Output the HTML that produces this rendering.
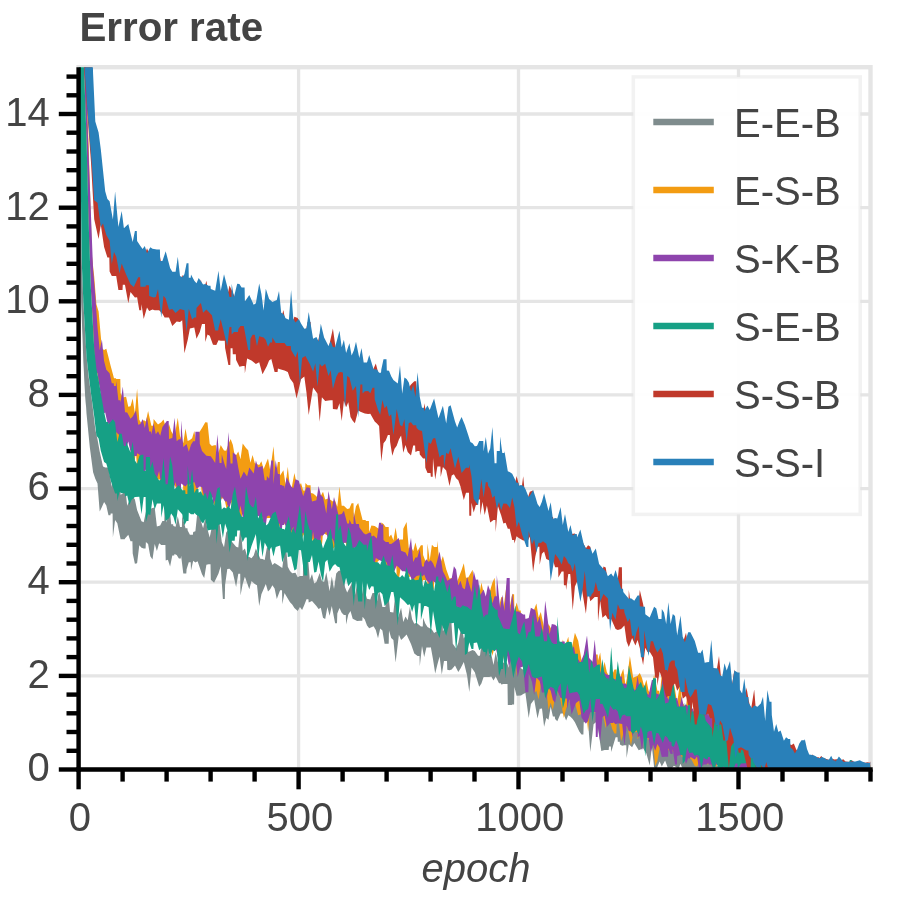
<!DOCTYPE html>
<html><head><meta charset="utf-8"><title>Error rate</title>
<style>
html,body{margin:0;padding:0;background:#fff;}
svg{display:block;}
text{font-family:"Liberation Sans",Arial,Helvetica,sans-serif;fill:#444444;}
</style></head><body>
<svg width="900" height="900" viewBox="0 0 900 900">
<rect x="0" y="0" width="900" height="900" fill="#ffffff"/>
<defs><clipPath id="plot"><rect x="78.6" y="67.2" width="791.9" height="702.3"/></clipPath></defs>
<g stroke="#e5e5e5" stroke-width="3.3" fill="none">
<line x1="298.6" y1="67.2" x2="298.6" y2="769.5"/>
<line x1="518.5" y1="67.2" x2="518.5" y2="769.5"/>
<line x1="738.5" y1="67.2" x2="738.5" y2="769.5"/>
<line x1="78.6" y1="675.9" x2="870.5" y2="675.9"/>
<line x1="78.6" y1="582.2" x2="870.5" y2="582.2"/>
<line x1="78.6" y1="488.6" x2="870.5" y2="488.6"/>
<line x1="78.6" y1="394.9" x2="870.5" y2="394.9"/>
<line x1="78.6" y1="301.3" x2="870.5" y2="301.3"/>
<line x1="78.6" y1="207.7" x2="870.5" y2="207.7"/>
<line x1="78.6" y1="114.0" x2="870.5" y2="114.0"/>
</g>
<rect x="78.6" y="67.2" width="791.9" height="702.3" fill="none" stroke="#e5e5e5" stroke-width="4.4"/>
<g clip-path="url(#plot)">
<path fill="#7f8c8d" d="M78.6,88.5L79.0,104.2L79.5,119.9L79.9,135.7L80.4,151.4L80.8,178.2L81.2,218.1L81.7,258.1L82.1,270.8L82.6,282.0L83.0,293.3L83.4,303.4L83.9,311.1L84.3,318.7L84.8,326.3L85.2,333.4L85.6,340.8L86.1,348.1L86.5,355.2L88.7,377.2L92.0,401.0L95.3,429.6L97.5,439.3L99.7,451.6L103.0,466.4L105.2,467.6L108.2,467.6L108.5,467.2L111.8,487.0L114.0,457.5L116.2,487.7L118.4,488.3L120.3,488.3L120.6,494.8L122.8,493.5L125.0,486.5L127.2,505.8L131.6,494.7L134.9,499.6L137.1,509.9L141.5,521.3L143.7,522.3L145.9,511.7L148.1,513.3L150.3,508.9L152.5,508.1L154.7,507.4L156.9,526.6L160.2,525.6L162.4,520.9L164.3,520.9L164.6,509.5L166.8,522.6L169.0,501.4L171.2,524.2L173.1,524.2L173.4,525.9L175.6,526.7L177.8,516.3L180.0,526.9L181.9,526.9L182.2,515.6L185.5,528.3L187.4,528.3L187.7,530.4L189.9,534.7L192.9,534.7L193.2,532.1L195.4,531.3L198.7,499.0L200.6,499.0L200.9,520.7L203.1,528.2L205.3,518.0L207.5,529.2L209.7,537.5L213.0,521.4L215.2,520.9L217.4,521.3L219.6,523.6L221.8,542.0L224.0,547.2L226.2,532.6L229.5,528.0L231.4,528.0L231.7,541.6L236.1,546.8L238.3,547.6L240.5,524.9L242.7,550.7L244.9,548.6L247.1,555.9L249.3,557.0L251.5,558.3L253.7,555.5L255.9,548.5L260.3,558.8L262.5,558.9L264.7,559.9L266.9,547.6L269.9,547.6L270.2,558.4L272.4,564.9L274.6,562.9L277.9,564.9L282.3,568.1L285.6,542.0L287.8,566.8L290.0,571.0L292.2,573.3L295.5,572.8L297.7,577.3L299.9,576.0L302.9,576.0L303.2,557.4L305.4,574.8L307.6,551.6L309.8,579.8L312.0,574.1L314.2,583.4L316.4,582.0L319.7,572.9L321.9,581.1L324.1,582.0L326.3,572.3L329.6,591.2L331.8,576.5L334.0,588.9L336.2,573.4L338.4,570.9L342.8,569.7L345.0,587.2L347.2,592.6L349.4,588.3L352.7,581.5L354.9,595.6L357.1,584.0L359.3,585.8L361.5,596.4L363.7,586.8L367.0,598.7L370.3,599.5L372.5,592.9L376.6,592.9L376.9,601.9L379.1,590.2L382.4,607.0L385.4,607.0L385.7,595.5L387.9,587.7L390.1,612.0L393.4,612.4L395.6,591.5L397.8,618.6L401.1,607.8L403.3,621.9L405.5,616.4L407.7,620.2L409.9,606.7L412.1,619.2L414.3,623.8L416.5,622.8L420.9,626.5L422.8,626.5L423.1,617.7L425.3,623.6L427.5,627.1L431.9,629.5L434.1,633.0L438.5,630.2L440.4,630.2L440.7,623.6L442.6,623.6L442.9,631.3L446.2,625.7L448.4,619.7L450.6,609.2L452.8,643.7L456.1,648.6L458.3,642.8L461.6,625.6L463.8,638.5L466.0,634.7L467.9,634.7L468.2,651.9L472.6,650.1L474.8,651.1L478.1,655.8L480.0,655.8L480.3,653.0L482.5,637.8L484.7,643.1L488.8,643.1L489.1,655.1L491.3,654.2L493.5,664.9L495.7,651.9L497.9,662.2L500.1,662.3L503.4,662.8L506.7,662.5L508.9,667.8L511.1,647.4L513.0,647.4L513.3,659.4L515.5,661.2L517.7,660.8L519.6,660.8L519.9,667.6L524.3,670.6L526.5,667.2L528.7,667.5L530.9,672.2L533.1,669.2L535.3,661.4L537.5,680.5L540.8,650.2L544.1,684.9L546.3,679.7L548.5,682.2L551.8,666.5L554.8,666.5L555.1,681.9L558.4,680.2L560.6,688.2L563.9,685.9L566.1,668.7L568.3,675.0L570.2,675.0L570.5,688.2L572.7,689.9L574.9,662.0L577.1,691.2L579.3,679.2L581.5,692.9L583.7,694.0L585.6,694.0L585.9,698.6L588.1,701.2L590.3,679.6L592.5,696.3L596.9,700.3L599.1,699.9L602.4,683.1L604.6,703.7L606.8,702.0L609.0,707.3L611.2,698.7L613.1,698.7L613.4,708.2L616.4,708.2L616.7,699.3L621.1,709.5L624.4,696.7L626.6,698.0L628.5,698.0L628.8,706.6L631.0,718.7L633.2,691.1L635.4,717.5L638.4,717.5L638.7,723.7L640.9,721.4L644.2,717.8L647.5,717.9L649.7,725.7L653.0,732.9L656.3,734.6L658.5,726.9L660.7,735.0L662.9,736.0L664.8,736.0L665.1,735.4L667.3,738.1L669.2,738.1L669.5,738.4L671.7,740.8L675.0,723.3L678.3,735.0L680.5,745.6L682.7,740.9L686.0,748.2L689.0,748.2L689.3,751.6L691.2,751.6L691.5,750.3L693.7,754.2L695.9,755.3L698.1,754.0L700.3,758.1L704.7,759.9L706.9,759.6L709.1,762.1L711.3,762.6L713.5,765.4L715.4,765.4L715.7,765.4L717.9,765.9L720.1,769.5L722.3,769.5L725.6,769.3L727.8,768.8L730.0,768.7L732.2,768.0L734.4,768.6L736.6,768.4L738.8,768.8L741.0,768.9L743.2,769.1L746.5,769.5L748.7,768.4L750.9,768.4L753.1,769.5L756.4,768.4L758.6,769.2L760.8,766.7L763.0,768.9L765.2,768.1L768.5,769.4L770.7,769.3L772.9,769.3L776.2,769.5L778.1,769.5L778.4,769.0L780.6,767.4L782.8,767.5L785.8,767.5L786.1,769.4L788.3,769.5L790.5,768.4L792.7,769.2L794.6,769.2L794.9,767.2L798.2,769.0L801.5,768.8L803.7,769.4L805.9,769.2L808.1,769.3L810.3,768.8L813.6,769.1L815.8,769.1L818.0,769.0L820.2,766.0L822.4,769.1L825.7,768.0L827.9,768.3L829.8,768.3L830.1,768.2L833.4,769.2L835.6,767.2L837.8,768.5L842.2,769.2L846.6,767.9L849.9,769.4L853.2,769.5L855.4,768.7L857.6,769.3L859.8,769.3L863.1,769.4L866.4,769.1L868.6,766.4L870.5,769.5L870.5,769.0L868.6,769.0L865.3,769.0L863.1,769.0L860.9,769.0L857.6,769.0L855.4,769.0L855.1,769.0L852.1,769.0L851.8,769.0L849.9,769.0L846.6,769.0L844.4,769.0L841.1,769.0L837.8,769.0L835.6,769.0L833.4,769.0L831.2,769.0L829.0,769.0L828.7,769.0L826.8,769.0L823.5,769.0L821.3,769.0L819.1,769.0L816.9,769.0L813.6,769.0L813.3,769.0L811.4,769.0L808.1,769.0L804.8,769.0L802.6,769.0L800.4,769.0L796.0,769.0L793.8,769.0L791.6,769.0L789.4,769.0L787.2,769.0L783.9,769.0L781.7,769.0L779.5,769.0L777.3,769.0L775.1,769.0L771.8,769.0L769.6,769.0L767.4,769.0L765.2,769.0L763.0,769.0L759.7,769.0L757.5,769.0L755.3,769.0L753.1,769.0L750.9,769.0L748.7,769.0L748.4,769.0L746.5,769.0L744.3,769.0L741.0,769.0L737.7,769.0L735.5,769.0L735.2,769.0L732.2,769.0L730.0,769.0L729.7,769.0L726.7,769.0L724.5,769.0L722.3,769.0L719.0,769.0L718.7,769.0L716.8,769.0L714.6,769.0L711.3,769.0L709.1,769.0L706.9,769.0L702.5,769.0L700.3,769.0L695.9,769.0L691.5,769.0L689.3,769.0L687.1,769.0L684.9,769.0L682.7,769.0L680.5,763.7L678.3,769.5L676.1,767.1L673.9,765.8L670.6,769.5L668.4,769.5L665.1,760.5L661.8,766.6L659.6,761.5L656.3,769.4L654.1,767.2L651.9,746.4L649.7,765.5L646.4,753.5L643.1,748.3L640.9,749.3L638.7,750.3L634.3,743.0L632.1,747.2L628.8,744.2L626.6,758.1L626.3,745.2L624.4,745.2L622.2,745.8L620.0,744.5L619.7,741.8L617.8,741.8L617.5,737.3L615.6,737.3L611.2,751.9L610.9,746.5L609.0,746.5L608.7,749.9L604.6,749.9L601.3,750.9L598.0,728.5L595.8,722.2L593.6,724.2L590.3,751.9L588.1,721.7L583.7,722.3L583.4,734.4L581.5,734.4L579.3,731.4L574.9,722.3L572.7,719.0L570.5,716.7L568.3,715.2L566.1,720.6L563.9,714.4L563.6,713.5L560.6,713.5L557.3,721.2L555.1,719.0L554.8,716.5L552.9,716.5L550.7,706.8L548.5,719.8L546.3,718.0L544.1,726.8L541.9,707.7L541.6,708.7L539.7,708.7L537.5,718.4L534.2,699.4L530.9,704.1L528.7,718.0L525.4,693.1L523.2,694.0L521.0,695.4L516.6,695.7L514.4,687.0L514.1,704.4L512.2,704.4L511.9,704.9L507.8,704.9L507.5,684.1L505.6,684.1L503.4,684.0L501.2,684.4L500.9,683.3L499.0,683.3L495.7,676.4L493.5,680.5L491.3,676.4L489.1,676.9L486.9,677.1L483.6,676.9L481.4,683.5L479.2,686.8L474.8,672.2L471.5,667.6L469.3,691.9L467.1,675.5L463.8,662.1L460.5,668.4L458.3,672.1L455.0,665.4L451.7,669.6L449.5,670.3L447.3,669.7L447.0,661.1L444.0,661.1L441.8,674.6L439.6,656.6L437.4,664.6L435.2,673.4L433.0,659.2L430.8,647.0L430.5,647.5L426.4,647.5L424.2,657.0L422.0,646.0L419.8,666.3L419.5,655.9L417.6,655.9L414.3,653.5L411.0,644.0L406.6,634.4L403.3,638.0L401.1,640.1L398.9,634.8L395.6,662.6L393.4,639.9L391.2,638.1L389.0,630.4L388.7,643.8L384.6,643.8L382.4,630.4L380.2,628.6L378.0,638.3L375.8,630.0L373.6,626.3L369.2,628.3L367.0,625.5L364.8,619.4L362.6,616.7L362.3,620.7L360.4,620.7L357.1,620.9L352.7,618.7L350.5,611.1L348.3,614.4L346.1,624.6L345.8,615.1L343.9,615.1L341.7,612.7L339.5,608.1L337.3,613.4L337.0,623.3L335.1,623.3L331.8,606.0L329.6,615.7L327.4,607.1L325.2,619.1L323.0,617.8L320.8,607.8L318.6,609.1L316.4,606.1L314.2,603.4L312.0,601.0L308.7,602.5L308.4,599.2L306.5,599.2L304.3,604.9L302.1,609.9L299.9,607.0L297.7,611.0L294.4,608.1L292.2,604.6L290.0,602.2L286.7,596.8L284.5,593.0L282.3,604.3L282.0,590.2L280.1,590.2L276.8,599.1L274.6,588.4L272.4,585.2L270.2,589.3L268.0,591.4L265.8,583.9L261.4,594.3L259.2,605.9L257.0,585.3L254.8,584.1L251.5,581.1L249.3,589.3L247.1,582.9L244.9,576.8L242.7,584.0L240.5,595.6L240.2,573.8L238.3,573.8L236.1,587.0L232.8,572.5L229.5,568.8L227.3,569.0L225.1,585.0L224.8,598.9L222.9,598.9L220.7,566.2L218.5,573.6L214.1,582.7L210.8,579.7L210.5,564.2L208.6,564.2L206.4,564.8L204.2,578.1L202.0,574.2L197.6,561.3L195.4,562.5L193.2,560.7L191.0,570.6L190.7,562.3L188.8,562.3L186.6,569.3L186.3,573.6L183.3,573.6L181.1,555.7L180.8,558.4L178.9,558.4L176.7,554.9L174.5,554.1L174.2,555.6L172.3,555.6L170.1,566.4L167.9,559.8L165.7,560.4L165.4,545.1L161.3,545.1L159.1,543.3L156.9,551.0L154.7,544.0L152.5,559.5L150.3,556.2L148.1,543.9L145.9,542.0L145.6,548.4L143.7,548.4L141.5,547.7L139.3,545.3L137.1,563.2L134.9,563.8L132.7,553.6L132.4,541.2L130.5,541.2L128.3,534.8L125.0,538.5L124.7,539.2L122.8,539.2L120.6,539.2L117.3,523.3L115.1,520.0L112.9,537.2L112.6,513.5L110.7,513.5L110.4,515.2L108.5,515.2L106.3,505.6L104.1,502.0L101.9,507.1L99.7,511.6L97.5,483.4L95.3,478.8L93.1,472.3L89.8,447.2L86.5,413.6L86.1,406.9L85.6,402.2L85.2,397.2L84.8,390.0L84.3,381.0L83.9,371.9L83.4,362.9L83.0,351.9L82.6,340.1L82.1,328.3L81.7,316.5L81.2,304.7L80.8,276.4L80.4,247.1L79.9,223.5L79.5,199.9L79.0,176.4L78.6,152.8Z"/>
<path fill="#f39c12" d="M78.6,-50.0L79.0,-50.0L79.5,-50.0L79.9,-50.0L80.4,-50.0L80.8,-50.0L81.2,-50.0L81.7,-50.0L82.1,-50.0L82.6,-50.0L83.0,-50.0L83.4,-50.0L83.9,-50.0L84.3,-29.2L84.8,1.4L85.2,32.2L85.6,62.7L86.1,76.3L86.5,88.9L88.7,146.0L92.0,256.4L94.2,276.5L96.4,304.2L98.6,311.5L101.9,348.6L104.1,350.0L106.3,348.8L108.5,357.2L110.7,366.0L114.0,378.2L115.9,378.2L116.2,379.0L120.3,379.0L120.6,393.3L122.8,397.4L126.1,396.8L128.3,406.7L130.5,406.3L132.7,398.6L134.9,413.3L137.1,388.8L139.3,419.8L141.5,423.6L143.7,419.9L145.9,421.5L148.1,411.0L151.4,425.8L153.3,425.8L153.6,419.1L158.0,424.6L161.3,422.2L163.5,419.4L166.8,430.8L169.0,424.1L171.2,431.3L174.5,436.8L177.8,417.8L180.0,436.1L183.3,443.0L185.5,428.6L187.7,440.9L189.9,440.1L192.1,438.3L194.3,431.0L196.5,443.9L198.7,433.2L202.0,427.9L205.3,422.2L207.5,422.6L209.7,443.7L211.9,446.0L214.1,445.2L216.0,445.2L216.3,452.7L218.2,452.7L218.5,452.4L220.7,445.0L224.0,450.6L226.2,450.7L228.4,444.3L230.6,439.0L232.8,444.7L235.0,457.1L238.3,451.5L240.5,459.3L242.7,443.6L246.0,447.9L248.2,450.2L250.4,462.7L252.6,455.0L254.8,463.2L259.2,465.0L261.4,461.2L263.6,469.1L268.0,458.5L270.2,470.6L273.5,446.3L275.7,476.6L277.9,461.9L279.8,461.9L280.1,475.5L283.4,470.3L285.6,484.8L287.8,466.8L290.0,487.9L291.9,487.9L292.2,484.9L294.4,472.9L296.6,483.5L298.8,486.5L301.0,483.1L303.2,490.6L305.1,490.6L305.4,483.0L307.6,485.3L310.6,485.3L310.9,493.0L313.1,493.4L315.3,495.2L317.5,497.5L319.7,497.9L323.0,491.7L325.2,499.4L328.5,498.5L332.9,501.6L335.1,500.8L337.3,506.7L339.5,486.6L341.7,505.8L343.9,505.8L347.2,509.0L349.4,508.4L351.6,503.3L353.5,503.3L353.8,517.3L356.0,506.2L358.2,502.9L362.6,520.0L365.6,520.0L365.9,520.9L368.9,520.9L369.2,531.9L371.4,525.5L374.7,526.1L379.1,529.1L381.0,529.1L381.3,522.5L383.5,524.0L385.7,527.0L388.7,527.0L389.0,537.0L391.2,534.4L393.4,540.6L395.6,527.4L397.8,541.2L400.0,539.5L403.0,539.5L403.3,528.7L406.6,522.1L408.8,548.4L411.0,546.2L413.2,551.3L415.4,542.5L417.6,551.0L420.9,545.3L422.8,545.3L423.1,555.0L425.3,560.7L427.2,560.7L427.5,543.5L429.7,560.2L431.9,544.8L434.1,546.9L437.1,546.9L437.4,540.8L439.6,565.4L442.9,555.9L446.2,569.2L449.5,578.4L452.8,578.0L457.2,581.5L461.6,569.9L463.8,563.2L466.0,577.7L468.2,577.4L472.6,569.8L474.8,591.1L477.0,588.5L479.2,595.1L481.4,582.5L484.7,598.0L488.0,597.3L490.2,590.3L492.4,582.5L494.6,577.8L496.8,606.3L499.0,606.8L501.2,597.2L503.1,597.2L503.4,608.2L506.7,584.0L508.9,611.3L512.2,594.3L514.1,594.3L514.4,612.1L516.6,602.4L518.8,610.4L520.7,610.4L521.0,613.6L525.4,618.7L529.8,622.7L534.2,609.3L536.4,603.5L538.6,617.5L540.8,612.0L544.1,627.5L546.3,632.1L548.5,623.9L551.8,630.1L554.0,642.3L556.2,636.1L558.4,645.4L560.3,645.4L560.6,642.5L562.5,642.5L562.8,639.6L565.0,646.6L568.3,636.7L570.5,654.8L574.9,632.7L578.2,640.8L582.6,666.3L585.9,665.5L588.1,664.2L590.3,664.6L593.3,664.6L593.6,666.8L595.5,666.8L595.8,654.4L597.7,654.4L598.0,660.8L600.2,652.5L602.4,672.1L604.6,661.7L606.8,671.9L609.0,676.4L612.0,676.4L612.3,674.5L614.5,669.4L616.4,669.4L616.7,674.2L619.7,674.2L620.0,677.4L623.3,668.7L625.5,685.8L627.7,673.2L629.9,656.0L633.2,677.7L637.6,675.7L639.8,673.0L642.0,677.9L644.2,686.5L646.4,679.7L648.6,690.9L650.8,693.8L654.1,674.5L657.4,690.8L659.3,690.8L659.6,697.2L661.8,674.0L663.7,674.0L664.0,698.5L666.2,697.1L668.4,691.6L670.6,694.0L673.9,683.3L677.2,702.5L679.4,686.9L681.3,686.9L681.6,701.5L686.0,707.5L688.2,684.0L690.4,703.3L692.6,715.7L695.9,712.6L698.1,713.6L700.3,706.6L702.5,715.2L705.8,705.7L708.0,714.5L710.2,720.5L712.4,704.2L715.7,722.4L717.9,718.9L720.1,726.6L722.3,714.1L724.5,712.1L727.8,709.4L730.0,702.7L732.2,724.1L734.4,724.1L736.6,727.2L738.8,726.4L741.0,735.3L743.2,742.8L747.6,746.6L749.8,741.0L752.0,743.8L754.2,749.2L756.4,745.3L758.6,750.1L761.9,754.7L764.1,755.3L766.3,754.3L769.6,759.4L774.0,761.2L777.0,761.2L777.3,759.9L779.5,762.7L781.7,764.2L785.0,764.5L787.2,764.2L791.6,764.7L793.8,765.1L796.0,763.8L798.2,764.5L800.4,765.3L802.6,762.3L807.0,765.3L809.2,762.6L812.5,764.9L814.7,764.4L816.9,764.3L819.1,764.3L823.5,764.9L825.7,764.4L829.0,765.1L831.2,765.1L835.6,764.9L838.9,765.3L841.1,765.3L843.3,765.3L845.5,765.1L847.7,765.6L849.6,765.6L849.9,764.5L851.8,764.5L852.1,763.7L854.0,763.7L854.3,764.1L856.5,763.9L858.7,764.0L863.1,765.1L865.0,765.1L865.3,763.9L867.5,765.1L869.7,764.5L870.5,765.1L870.5,769.0L868.6,769.0L865.3,769.0L862.0,769.0L859.8,769.0L856.5,769.0L853.2,769.0L851.0,769.0L850.7,769.0L848.8,769.0L848.5,769.0L846.6,769.0L844.4,769.0L842.2,769.0L840.0,769.0L837.8,769.0L835.6,769.0L833.4,769.0L831.2,769.0L829.0,769.0L826.8,769.0L824.6,769.0L824.3,769.0L822.4,769.0L820.2,769.0L816.9,769.0L814.7,769.0L812.5,769.0L809.2,769.0L807.0,769.0L804.8,769.0L802.6,769.0L800.4,769.0L798.2,769.0L797.9,769.0L796.0,769.0L793.8,769.0L791.6,769.0L789.4,769.0L787.2,769.0L786.9,769.0L783.9,769.0L783.6,769.0L781.7,769.0L779.5,769.0L775.1,769.0L772.9,769.0L769.6,769.0L767.4,769.0L765.2,769.0L760.8,769.0L757.5,769.0L755.3,769.0L753.1,769.0L749.8,769.0L747.6,769.0L745.4,769.0L743.2,769.0L741.0,769.0L740.7,769.5L737.7,769.5L735.5,769.5L732.2,768.2L728.9,763.3L726.7,766.0L724.5,765.0L724.2,769.5L722.3,769.5L720.1,769.5L719.8,764.7L717.9,764.7L714.6,767.8L712.4,766.0L709.1,763.8L706.9,764.5L706.6,762.7L704.7,762.7L702.5,764.1L699.2,761.7L697.0,766.6L694.8,766.1L691.5,759.6L689.3,757.8L687.1,760.2L684.9,759.1L681.6,756.6L679.4,753.1L675.0,752.9L672.8,751.7L670.6,747.6L668.4,750.5L666.2,748.6L661.8,743.4L659.6,748.8L657.4,760.9L655.2,766.2L653.0,739.1L650.8,740.0L648.6,739.7L645.3,734.7L643.1,732.4L640.9,729.8L637.6,739.4L637.3,732.1L633.2,732.1L631.0,746.0L627.7,728.4L625.5,726.6L621.1,741.3L618.9,722.0L616.7,718.8L616.4,733.6L614.5,733.6L612.3,729.2L609.0,717.7L605.7,727.9L603.5,717.0L601.3,717.4L598.0,709.4L594.7,712.4L592.5,712.0L590.3,706.1L588.1,731.4L585.9,708.3L583.7,704.7L583.4,714.1L581.5,714.1L578.2,715.3L574.9,703.1L572.7,693.3L569.4,701.6L566.1,708.5L563.9,718.0L559.5,695.2L556.2,689.8L552.9,709.9L550.7,702.7L548.5,710.0L546.3,688.7L544.1,685.2L540.8,685.5L538.6,699.6L536.4,691.1L534.2,692.8L533.9,675.6L532.0,675.6L529.8,673.5L527.6,672.6L527.3,672.3L525.4,672.3L523.2,666.4L521.0,666.4L520.7,665.5L518.8,665.5L516.6,676.1L516.3,660.1L514.4,660.1L512.2,656.6L511.9,653.5L508.9,653.5L506.7,654.4L504.5,655.4L502.3,661.0L500.1,654.3L495.7,642.5L492.4,656.1L490.2,638.3L488.0,637.8L485.8,635.1L483.6,633.8L481.4,648.6L479.2,638.0L477.0,636.3L474.8,628.3L472.6,642.4L470.4,616.9L468.2,616.7L466.0,626.9L462.7,612.4L460.5,609.4L460.2,607.6L458.3,607.6L456.1,610.2L455.8,608.9L453.9,608.9L449.5,595.9L445.1,594.8L442.9,597.1L442.6,582.1L440.7,582.1L436.3,579.4L434.1,580.2L433.8,589.6L429.7,589.6L427.5,594.4L427.2,580.5L425.3,580.5L425.0,579.9L423.1,579.9L419.8,587.7L417.6,588.3L415.4,584.7L413.2,587.7L411.0,576.6L407.7,577.3L405.5,565.6L403.3,568.5L401.1,565.0L398.9,578.9L396.7,579.6L396.4,566.2L393.4,566.2L391.2,566.2L389.0,571.8L386.8,574.8L383.5,561.2L380.2,558.9L376.9,562.6L374.7,575.5L372.5,555.5L369.2,556.1L364.8,554.3L362.6,575.9L360.4,548.2L358.2,548.3L356.0,547.8L352.7,544.7L349.4,565.6L346.1,544.6L345.8,542.8L343.9,542.8L341.7,547.4L339.5,538.8L337.3,546.6L335.1,546.4L331.8,550.4L327.4,535.3L323.0,533.0L320.8,558.2L320.5,537.4L318.6,537.4L315.3,532.7L313.1,544.7L310.9,531.5L307.6,550.2L304.3,533.8L302.1,537.4L299.9,528.9L297.7,549.9L294.4,527.6L290.0,538.5L286.7,525.2L284.5,523.9L282.3,519.8L277.9,530.0L275.7,525.7L273.5,525.7L271.3,520.4L271.0,517.9L268.0,517.9L265.8,518.4L263.6,516.9L261.4,536.5L259.2,515.6L254.8,512.8L252.6,515.0L250.4,507.4L248.2,511.6L247.9,510.3L246.0,510.3L243.8,506.0L241.6,517.6L239.4,519.1L239.1,514.8L237.2,514.8L235.0,517.2L234.7,513.4L231.7,513.4L231.4,502.5L229.5,502.5L227.3,511.8L224.0,496.9L221.8,499.2L219.6,495.7L217.4,500.3L214.1,506.3L211.9,491.7L209.7,495.3L207.5,490.9L205.3,485.2L203.1,508.1L200.9,484.9L198.7,485.8L196.5,493.7L194.3,498.0L192.1,486.8L189.9,483.3L187.7,497.5L185.5,498.5L183.3,493.3L183.0,481.8L181.1,481.8L176.7,489.5L174.5,484.7L172.3,483.6L172.0,489.7L170.1,489.7L167.9,483.2L167.6,476.7L165.7,476.7L162.4,475.6L160.2,487.2L159.9,479.6L155.8,479.6L155.5,474.6L153.6,474.6L151.4,498.2L148.1,477.6L145.9,464.4L142.6,459.1L140.4,467.2L138.2,483.2L136.0,452.9L133.8,464.9L131.6,452.1L129.4,444.4L129.1,440.9L127.2,440.9L125.0,438.1L122.8,440.2L120.6,435.2L118.4,449.7L118.1,445.8L116.2,445.8L112.9,446.7L110.7,426.0L110.4,413.2L106.3,413.2L104.1,404.9L100.8,388.6L98.6,382.6L94.2,352.9L92.0,306.3L88.7,227.4L86.5,140.2L86.1,128.6L85.6,115.0L85.2,101.8L84.8,89.1L84.3,76.3L83.9,55.7L83.4,14.6L83.0,-26.5L82.6,-50.0L82.1,-50.0L81.7,-50.0L81.2,-50.0L80.8,-50.0L80.4,-50.0L79.9,-50.0L79.5,-50.0L79.0,-50.0L78.6,-50.0Z"/>
<path fill="#8e44ad" d="M78.6,-50.0L79.0,-50.0L79.5,-50.0L79.9,-50.0L80.4,-50.0L80.8,-50.0L81.2,-50.0L81.7,-50.0L82.1,-50.0L82.6,-50.0L83.0,-50.0L83.4,-50.0L83.9,-49.4L84.3,-17.8L84.8,13.8L85.2,45.1L85.6,70.5L86.1,82.8L86.5,95.0L88.7,156.0L93.1,269.6L95.3,295.9L97.5,327.3L99.7,350.2L101.9,339.4L104.1,360.9L106.3,369.7L109.6,373.3L111.8,383.2L113.7,383.2L114.0,386.1L115.9,386.1L116.2,380.9L118.4,400.3L120.3,400.3L120.6,402.6L122.8,386.5L125.0,412.2L127.2,412.6L130.5,418.8L132.7,416.4L136.0,410.4L138.2,424.7L140.4,424.0L142.6,418.9L144.8,428.1L147.0,417.0L149.2,431.4L151.1,431.4L151.4,434.7L153.6,423.0L155.8,434.2L158.0,431.2L160.2,435.8L162.4,427.1L166.8,420.9L168.7,420.9L169.0,439.1L172.3,438.0L174.5,417.8L176.7,441.2L178.9,439.2L180.8,439.2L181.1,420.4L183.3,447.0L186.6,444.0L188.8,451.8L191.0,444.8L193.2,441.3L195.1,441.3L195.4,431.7L199.5,431.7L199.8,444.0L202.0,451.1L206.4,455.7L208.6,456.1L210.8,456.2L213.0,459.5L215.2,462.9L217.4,434.3L219.6,463.1L221.5,463.1L221.8,454.2L224.0,462.6L226.2,469.0L228.4,432.0L230.6,463.6L232.5,463.6L232.8,452.3L236.1,454.9L238.3,467.8L240.5,478.7L243.8,471.4L247.1,476.4L249.3,467.6L253.7,473.4L255.9,460.5L258.1,467.5L260.3,466.8L262.5,466.1L264.7,480.2L266.6,480.2L266.9,476.1L269.1,478.7L271.3,460.6L273.2,460.6L273.5,483.9L275.7,460.2L277.9,473.9L279.8,473.9L280.1,484.9L282.0,484.9L282.3,485.7L284.2,485.7L284.5,488.7L286.7,477.2L288.9,481.8L291.1,486.2L293.3,488.2L295.5,479.2L298.8,480.8L303.2,496.2L306.5,487.2L309.8,487.7L312.0,501.4L316.4,500.2L318.6,486.1L320.8,495.0L323.0,497.2L326.3,513.5L328.5,491.1L331.8,509.2L334.0,497.1L338.4,514.8L341.7,513.9L343.9,510.8L347.2,523.4L349.1,523.4L349.4,519.5L351.6,523.9L353.5,523.9L353.8,512.3L356.0,523.9L359.0,523.9L359.3,527.3L363.7,533.3L365.9,534.6L369.2,532.8L371.1,532.8L371.4,536.7L373.6,535.6L376.9,538.4L379.1,522.8L381.0,522.8L381.3,524.4L383.2,524.4L383.5,539.9L385.7,541.9L388.7,541.9L389.0,543.7L391.2,544.0L393.4,542.4L395.6,540.8L398.9,537.9L401.1,550.8L405.5,552.6L407.7,556.7L411.0,537.7L413.2,562.0L415.4,557.6L417.3,557.6L417.6,556.4L419.8,549.2L422.0,566.6L423.9,566.6L424.2,562.9L426.4,559.3L428.6,561.9L430.8,560.3L433.0,563.3L435.2,568.4L439.6,551.5L442.9,571.2L445.1,575.4L447.3,580.7L451.7,578.3L453.9,566.2L456.1,569.6L458.3,585.4L460.5,580.7L462.7,588.0L464.9,589.2L467.1,576.9L471.5,592.0L473.7,571.0L475.9,579.8L478.1,579.5L480.3,594.9L483.6,589.5L485.8,596.4L488.0,584.9L490.2,590.8L492.4,603.3L494.6,596.3L496.5,596.3L496.8,575.1L500.1,608.1L502.3,594.7L504.5,610.9L506.7,578.0L509.7,578.0L510.0,612.9L512.2,593.3L514.4,611.2L518.8,611.5L523.2,614.6L525.1,614.6L525.4,618.9L528.7,618.0L530.9,607.8L535.3,610.2L537.5,622.7L539.7,616.7L543.0,633.2L545.2,600.8L549.6,634.3L551.8,624.0L555.1,624.7L557.3,626.8L559.5,644.4L561.7,641.4L564.7,641.4L565.0,645.9L567.2,653.8L569.4,654.1L573.8,646.3L576.0,657.7L578.2,659.3L580.4,662.7L583.7,654.6L587.0,635.4L589.2,657.9L592.5,661.8L594.7,639.4L596.9,664.4L601.3,673.8L603.5,670.9L605.7,674.1L607.9,674.9L610.9,674.9L611.2,677.8L615.6,679.5L617.5,679.5L617.8,667.9L620.0,676.5L621.9,676.5L622.2,683.7L625.5,683.4L627.7,685.4L631.0,686.5L635.4,690.4L637.6,676.1L639.8,690.3L643.9,690.3L644.2,687.5L646.4,692.4L648.6,694.9L651.9,680.1L654.1,680.1L656.3,693.5L658.5,694.2L660.7,695.7L662.9,670.5L666.2,695.0L668.4,699.7L671.7,689.3L673.6,689.3L673.9,698.4L677.2,697.9L679.4,708.6L681.6,696.4L683.8,706.4L686.0,704.2L688.2,706.6L690.4,710.0L692.6,708.3L695.9,716.7L698.1,714.4L700.3,706.0L703.6,713.9L705.8,692.0L708.0,716.1L710.2,702.8L712.4,719.4L715.7,721.3L717.9,715.0L721.2,726.0L723.4,719.2L726.4,719.2L726.7,728.3L730.0,706.6L732.2,723.6L734.4,738.9L737.7,727.7L739.6,727.7L739.9,728.2L744.3,743.4L746.5,741.0L748.7,747.9L750.9,747.9L753.1,745.5L756.4,744.1L758.3,744.1L758.6,755.1L760.8,753.1L763.8,753.1L764.1,758.2L766.3,758.3L768.5,759.3L770.7,757.7L774.0,761.4L776.2,761.8L778.4,763.2L780.6,764.5L782.8,763.5L785.0,765.3L789.4,764.4L791.6,766.0L796.0,765.3L798.2,764.9L800.4,764.9L802.6,766.6L804.8,766.1L807.0,766.3L809.2,765.9L811.4,765.3L813.6,764.7L818.0,766.1L821.3,765.3L824.6,766.3L826.5,766.3L826.8,766.6L829.0,765.2L831.2,766.2L833.4,766.1L835.6,765.6L837.5,765.6L837.8,766.6L840.0,764.9L842.2,766.4L844.4,766.0L846.6,766.2L848.8,763.6L851.0,765.3L854.0,765.3L854.3,765.2L857.6,766.0L860.9,766.3L864.2,766.3L866.4,765.7L868.6,766.2L870.2,766.2L870.5,766.5L870.5,769.0L870.2,769.0L868.6,769.0L866.4,769.0L863.1,769.0L860.9,769.0L858.7,769.0L856.5,769.0L854.3,769.0L852.1,769.0L849.9,769.0L847.7,769.0L845.5,769.0L843.3,769.0L841.1,769.0L837.8,769.0L835.6,769.0L832.3,769.0L830.1,769.0L827.9,769.0L825.7,769.0L823.5,769.0L821.3,769.0L819.1,769.0L816.9,769.0L814.7,769.0L812.5,769.0L810.3,769.0L808.1,769.0L805.9,769.0L805.6,769.0L803.7,769.0L801.5,769.0L799.3,769.0L797.1,769.0L794.9,769.0L790.5,769.0L786.1,769.0L783.9,769.0L781.7,769.0L777.3,769.0L774.0,769.0L771.8,769.0L769.6,769.0L769.3,769.0L767.4,769.0L765.2,769.0L763.0,769.0L759.7,769.0L757.5,769.0L754.2,769.0L753.9,769.0L752.0,769.0L749.8,769.0L747.6,769.0L747.3,769.0L744.3,769.0L741.0,769.0L738.8,769.5L736.6,769.5L734.4,769.5L732.2,769.5L728.9,769.5L724.5,767.7L721.2,769.5L720.9,762.3L719.0,762.3L715.7,765.3L713.5,769.2L711.3,764.7L709.1,764.5L708.8,763.7L706.9,763.7L706.6,764.4L703.6,764.4L699.2,769.5L697.0,756.5L694.8,759.5L690.4,757.0L690.1,758.5L688.2,758.5L686.0,763.9L683.8,755.3L683.5,755.3L679.4,755.3L677.2,756.0L676.9,764.4L675.0,764.4L672.8,749.0L672.5,754.1L670.6,754.1L668.4,748.3L668.1,756.7L665.1,756.7L661.8,757.1L659.6,747.7L657.4,744.1L655.2,750.7L653.0,744.4L650.8,752.5L648.6,738.1L646.4,737.9L644.2,732.4L642.0,750.7L639.8,735.8L637.6,737.4L637.3,728.8L634.3,728.8L632.1,737.2L631.8,731.3L628.8,731.3L626.6,725.8L624.4,745.5L622.2,724.0L617.8,723.2L615.6,724.2L613.4,722.3L613.1,722.9L610.1,722.9L606.8,727.1L604.6,715.6L602.4,717.5L600.2,741.5L598.0,727.0L597.7,737.1L595.8,737.1L595.5,712.1L592.5,712.1L590.3,712.3L588.1,720.8L585.9,723.8L581.5,717.5L579.3,700.6L576.0,703.0L571.6,714.6L569.4,699.2L567.2,708.7L566.9,698.6L562.8,698.6L560.6,698.0L557.3,690.8L555.1,702.7L552.9,700.1L550.7,690.8L548.5,687.9L546.3,700.3L546.0,692.5L541.9,692.5L539.7,680.9L536.4,677.6L534.2,695.1L532.0,681.9L528.7,673.2L528.4,692.2L525.4,692.2L523.2,666.2L519.9,667.9L517.7,677.2L515.5,658.9L513.3,658.7L511.1,660.0L508.9,666.5L506.7,653.6L504.5,649.8L504.2,653.7L502.3,653.7L500.1,663.0L497.9,657.1L495.7,647.9L491.3,637.3L489.1,645.2L486.9,636.0L484.7,632.6L484.4,630.8L482.5,630.8L480.3,630.7L480.0,621.8L478.1,621.8L477.8,623.2L474.8,623.2L471.5,634.3L468.2,618.5L464.9,620.0L462.7,610.9L460.5,612.4L457.2,606.3L453.9,623.3L451.7,602.8L449.5,599.6L447.3,604.2L445.1,607.3L444.8,592.9L442.9,592.9L439.6,585.8L439.3,584.3L437.4,584.3L433.0,580.9L430.8,609.8L428.6,582.2L426.4,579.9L424.2,574.6L422.0,576.7L421.7,575.6L418.7,575.6L416.5,575.9L412.1,580.6L409.9,575.0L407.7,572.6L404.4,571.2L402.2,571.2L398.9,567.6L396.7,565.5L393.4,573.5L393.1,582.3L391.2,582.3L386.8,562.7L384.6,560.7L381.3,561.1L379.1,560.0L375.8,558.0L373.6,569.7L370.3,582.7L365.9,565.0L361.5,567.8L359.3,564.6L357.1,553.4L354.9,546.7L352.7,558.1L350.5,542.4L348.3,546.2L348.0,542.8L346.1,542.8L343.9,542.7L343.6,544.9L339.5,544.9L339.2,541.5L337.3,541.5L335.1,544.9L332.9,539.2L330.7,536.7L328.5,542.6L326.3,531.6L323.0,535.4L320.8,535.6L320.5,545.0L318.6,545.0L316.4,559.2L313.1,531.7L310.9,547.6L307.6,532.4L305.4,530.0L303.2,533.8L301.0,531.9L296.6,548.1L293.3,526.8L291.1,531.6L288.9,541.6L284.5,522.0L284.2,524.9L282.3,524.9L280.1,547.3L279.8,523.8L275.7,523.8L273.5,536.6L273.2,519.2L271.3,519.2L269.1,515.3L266.9,516.6L264.7,536.0L262.5,516.6L262.2,517.4L260.3,517.4L258.1,515.7L253.7,520.3L251.5,538.3L249.3,505.2L247.1,508.1L244.9,528.6L240.5,505.6L238.3,517.8L236.1,506.7L233.9,500.9L231.7,499.9L229.5,507.8L227.3,504.8L227.0,501.4L225.1,501.4L221.8,496.5L219.6,508.9L215.2,499.8L213.0,504.8L212.7,497.6L210.8,497.6L208.6,507.6L206.4,498.4L204.2,497.0L202.0,487.3L199.8,486.5L196.5,488.4L194.3,482.1L189.9,484.4L187.7,483.7L185.5,486.5L181.1,483.4L180.8,492.7L177.8,492.7L175.6,482.0L173.4,490.1L173.1,481.0L171.2,481.0L169.0,490.4L165.7,488.0L163.5,473.3L161.3,485.6L159.1,471.1L156.9,478.9L154.7,476.0L152.5,474.5L152.2,470.6L150.3,470.6L148.1,480.4L147.8,469.4L145.9,469.4L143.7,475.8L141.5,460.6L139.3,454.6L137.1,453.2L136.8,456.1L133.8,456.1L131.6,456.8L128.3,441.6L126.1,449.7L125.8,455.2L121.7,455.2L119.5,435.2L115.1,431.3L112.9,428.8L109.6,425.8L107.4,422.6L105.2,412.6L103.0,414.0L99.7,387.7L97.5,372.6L95.3,376.6L93.1,324.8L90.9,289.6L88.7,227.2L86.5,140.1L86.1,126.6L85.6,114.5L85.2,102.3L84.8,89.1L84.3,76.3L83.9,55.7L83.4,14.6L83.0,-26.5L82.6,-50.0L82.1,-50.0L81.7,-50.0L81.2,-50.0L80.8,-50.0L80.4,-50.0L79.9,-50.0L79.5,-50.0L79.0,-50.0L78.6,-50.0Z"/>
<path fill="#16a085" d="M78.6,-50.0L79.0,-50.0L79.5,-50.0L79.9,-50.0L80.4,-50.0L80.8,-50.0L81.2,-50.0L81.7,-50.0L82.1,-50.0L82.6,-50.0L83.0,-26.5L83.4,14.6L83.9,55.7L84.3,76.3L84.8,89.1L85.2,102.0L85.6,113.6L86.1,125.9L86.5,138.3L88.7,224.1L90.9,288.6L94.2,348.0L96.4,368.8L98.6,379.8L100.8,393.1L104.1,411.9L106.3,422.1L108.2,422.1L108.5,424.3L112.9,419.2L115.1,422.3L117.3,442.0L119.5,433.5L121.7,433.8L123.9,446.0L125.8,446.0L126.1,441.2L130.5,452.4L132.7,441.7L134.9,460.5L137.1,463.8L139.3,455.9L141.5,454.7L143.4,454.7L143.7,470.9L145.6,470.9L145.9,457.1L150.0,457.1L150.3,468.6L152.5,461.5L154.7,473.6L156.9,477.0L159.1,480.5L161.3,479.6L163.5,458.0L165.7,484.3L167.6,484.3L167.9,482.2L170.1,456.4L172.3,465.5L174.5,489.3L178.9,485.0L182.2,490.3L185.2,490.3L185.5,494.1L187.4,494.1L187.7,465.7L189.9,486.4L192.1,469.4L194.3,493.0L196.5,489.1L198.4,489.1L198.7,492.8L200.9,491.2L203.1,496.0L205.3,492.6L207.5,499.5L209.7,490.6L211.9,494.9L214.1,505.7L217.4,488.6L219.6,486.9L221.8,509.4L224.0,507.3L226.2,508.5L228.4,505.4L230.6,509.2L232.8,494.0L235.0,486.6L237.2,501.5L239.4,511.7L241.6,516.5L243.8,517.3L246.0,486.6L249.3,503.2L251.5,506.6L253.7,507.5L255.9,496.8L258.1,518.6L261.4,511.4L263.6,522.6L265.5,522.6L265.8,525.6L268.0,524.1L272.4,513.7L275.7,511.4L277.9,519.9L280.1,528.1L282.0,528.1L282.3,529.1L284.2,529.1L284.5,530.3L288.9,516.0L291.1,532.8L293.3,527.3L295.5,533.8L299.9,505.1L303.2,541.9L305.4,511.0L307.6,522.7L309.8,530.0L311.7,530.0L312.0,541.0L315.3,537.8L317.5,539.8L320.8,540.3L323.0,548.6L325.2,542.6L327.4,537.5L330.7,528.3L334.0,551.6L336.2,514.2L338.1,514.2L338.4,530.7L340.6,525.3L342.8,542.0L346.1,546.4L348.3,526.9L350.5,532.9L352.7,548.0L356.0,546.7L359.3,540.0L363.7,544.7L366.7,544.7L367.0,550.9L369.2,541.8L371.4,535.3L373.6,561.5L375.8,562.2L378.0,562.2L380.2,564.8L383.5,555.6L386.8,565.2L390.1,566.0L392.3,555.1L394.5,571.6L397.8,576.3L400.0,577.4L402.2,575.0L404.4,577.6L406.6,566.9L409.9,580.1L413.2,578.7L415.4,580.3L418.7,579.7L420.9,571.0L423.1,587.3L425.3,579.7L427.5,583.8L429.4,583.8L429.7,583.0L431.9,580.1L434.1,591.3L436.3,576.4L438.2,576.4L438.5,580.4L440.7,582.9L442.9,576.6L447.3,592.2L449.5,583.2L451.7,601.3L453.9,596.5L455.8,596.5L456.1,606.1L458.3,606.9L460.5,607.7L462.7,605.2L464.9,606.3L467.1,606.7L471.5,610.2L474.8,585.3L477.0,600.5L479.2,583.8L481.4,606.1L483.6,617.5L485.8,614.8L488.0,614.5L490.2,589.5L492.4,606.0L495.7,609.8L497.6,609.8L497.9,615.9L500.1,620.7L503.4,628.4L505.3,628.4L505.6,629.0L509.7,629.0L510.0,627.0L512.2,618.9L515.5,605.6L517.7,632.7L519.9,634.5L522.1,626.8L524.3,621.5L526.5,639.1L528.7,632.0L530.9,631.5L533.1,614.4L535.3,636.5L539.4,636.5L539.7,636.6L541.9,627.4L544.1,641.3L547.1,641.3L547.4,632.2L551.8,642.6L554.0,644.0L557.0,644.0L557.3,616.4L559.5,641.4L561.7,641.9L563.9,644.2L566.1,642.6L568.3,641.8L571.6,642.1L573.8,653.7L577.9,653.7L578.2,662.9L580.4,662.1L582.6,662.0L587.0,649.5L589.2,673.0L591.4,659.9L593.6,668.0L598.0,664.5L599.9,664.5L600.2,676.1L602.4,659.1L604.6,675.2L606.8,678.4L608.7,678.4L609.0,681.9L611.2,646.7L613.4,678.3L615.6,681.0L617.8,661.0L620.0,677.1L624.4,688.2L626.6,687.6L628.8,665.6L631.0,675.9L634.3,691.4L636.5,688.7L640.9,681.7L643.1,688.3L645.3,684.3L647.5,696.7L650.8,698.5L653.0,678.3L656.0,678.3L656.3,699.8L658.5,696.5L662.9,683.5L665.1,703.6L668.4,702.6L670.6,691.4L672.8,675.6L675.0,695.6L677.2,706.7L679.4,706.4L682.7,706.6L684.6,706.6L684.9,702.4L687.1,715.4L689.3,694.8L691.5,711.5L693.4,711.5L693.7,715.6L695.9,712.6L698.1,718.0L700.3,689.2L702.5,706.3L705.8,720.8L709.1,724.7L713.5,730.4L715.7,699.9L717.9,724.4L721.2,704.1L723.4,729.8L725.3,729.8L725.6,717.1L727.5,717.1L727.8,731.0L731.1,737.0L734.4,719.8L738.8,731.0L741.0,743.6L743.2,746.6L745.4,749.9L747.6,748.9L749.5,748.9L749.8,745.9L752.0,750.0L754.2,753.4L756.4,755.6L758.6,754.7L760.8,758.8L763.0,756.7L765.2,760.4L768.5,762.6L771.8,763.6L776.2,765.5L778.4,767.2L780.6,767.9L782.8,768.1L784.7,768.1L785.0,768.5L788.3,768.0L790.5,767.9L793.8,768.7L797.1,767.4L799.3,769.5L801.5,769.3L803.7,769.1L805.9,769.3L808.1,769.4L810.3,769.0L812.5,768.2L814.4,768.2L814.7,767.6L816.9,769.4L819.1,769.3L821.0,769.3L821.3,768.9L823.5,769.1L826.8,768.1L828.7,768.1L829.0,769.0L831.2,769.3L833.4,769.1L835.6,768.7L838.9,767.8L842.2,769.1L844.4,768.9L846.6,767.4L849.9,769.5L854.3,769.4L856.5,768.0L858.7,768.6L860.9,769.2L863.1,769.0L865.3,769.3L867.2,769.3L867.5,769.1L869.7,768.1L870.5,769.1L870.5,764.4L869.7,768.3L867.5,769.5L865.3,769.5L862.0,765.7L858.7,762.5L856.5,767.1L854.3,769.5L852.1,765.2L851.8,760.0L849.9,760.0L846.6,769.5L846.3,765.9L844.4,765.9L841.1,767.1L838.9,765.6L838.6,763.8L836.7,763.8L833.4,769.5L830.1,766.2L827.9,762.9L827.6,764.1L825.7,764.1L825.4,760.0L823.5,760.0L821.3,769.5L819.1,762.0L816.9,768.7L816.6,769.5L814.7,769.5L812.5,769.1L810.3,769.5L808.1,769.5L805.9,769.5L802.6,769.3L800.4,765.3L798.2,762.1L796.0,769.5L793.8,769.5L791.6,768.3L789.4,766.5L787.2,769.5L783.9,769.5L783.6,769.5L781.7,769.5L779.5,768.6L777.3,769.2L775.1,769.5L772.9,765.0L770.7,764.2L768.5,769.5L766.3,769.5L764.1,767.8L759.7,769.5L755.3,768.1L753.1,769.5L750.9,769.5L748.7,762.4L745.4,763.2L741.0,763.6L737.7,769.5L737.4,763.5L735.5,763.5L733.3,769.5L731.1,769.5L728.9,769.5L726.7,769.5L723.4,766.5L721.2,769.5L719.0,769.5L715.7,761.6L715.4,769.5L713.5,769.5L710.2,758.7L709.9,757.0L708.0,757.0L707.7,759.3L705.8,759.3L703.6,757.6L701.4,769.5L699.2,756.1L697.0,754.7L694.8,755.9L692.6,752.6L689.3,753.0L687.1,747.3L684.9,760.9L682.7,764.1L682.4,755.0L680.5,755.0L678.3,745.6L676.1,740.1L673.9,746.7L671.7,745.9L671.4,741.7L669.5,741.7L667.3,737.4L665.1,735.7L662.9,743.1L658.5,733.2L656.3,732.9L654.1,744.7L651.9,732.3L651.6,731.0L649.7,731.0L647.5,731.9L645.3,756.5L643.1,735.3L640.9,726.5L638.7,734.6L636.5,730.3L633.2,733.7L631.0,731.7L630.7,716.3L628.8,716.3L626.6,716.3L624.4,714.5L622.2,715.4L620.0,720.9L617.8,711.6L615.6,709.0L613.4,710.1L610.1,705.2L607.9,718.1L605.7,711.1L602.4,703.8L600.2,704.1L599.9,699.0L595.8,699.0L592.5,722.1L590.3,698.1L588.1,709.2L585.9,710.0L583.7,714.0L579.3,695.0L577.1,691.8L574.9,692.3L572.7,692.5L569.4,693.5L567.2,683.8L565.0,700.5L562.8,708.7L560.6,683.3L558.4,687.3L556.2,696.4L554.0,688.5L550.7,686.7L548.5,689.0L545.2,698.4L541.9,676.5L538.6,677.5L535.3,678.2L532.0,676.6L528.7,663.9L524.3,678.2L522.1,661.6L518.8,656.8L516.6,663.0L513.3,678.3L510.0,656.7L507.8,649.7L505.6,678.6L503.4,655.3L503.1,669.1L501.2,669.1L499.0,676.3L496.8,648.7L494.6,651.3L492.4,649.8L490.2,658.6L488.0,648.2L485.8,657.1L485.5,652.0L483.6,652.0L481.4,648.0L479.2,650.3L477.0,642.6L473.7,643.0L473.4,649.1L471.5,649.1L469.3,642.2L467.1,653.4L464.9,654.9L464.6,634.0L461.6,634.0L458.3,627.7L456.1,651.1L453.9,622.8L451.7,623.3L449.5,622.8L446.2,635.8L441.8,624.4L439.6,638.0L436.3,630.5L433.0,611.1L430.8,634.8L428.6,607.2L426.4,606.3L426.1,606.1L424.2,606.1L420.9,620.0L420.6,603.2L418.7,603.2L416.5,626.7L414.3,604.4L412.1,612.0L409.9,604.3L407.7,605.1L404.4,601.3L400.0,597.3L397.8,625.4L395.6,605.1L393.4,592.1L391.2,592.0L389.0,601.1L384.6,605.9L382.4,594.2L380.2,592.1L378.0,592.9L375.8,609.1L373.6,586.4L371.4,586.2L369.2,590.0L367.0,582.9L364.8,609.6L362.6,581.1L362.3,601.5L358.2,601.5L356.0,580.8L353.8,606.0L351.6,581.8L348.3,586.3L346.1,577.8L343.9,585.9L339.5,567.3L337.3,566.6L335.1,564.1L332.9,566.1L329.6,571.8L327.4,559.8L325.2,562.0L323.0,582.0L320.8,574.2L318.6,561.5L316.4,572.0L314.2,572.6L312.0,555.0L309.8,562.0L307.6,562.1L307.3,575.5L304.3,575.5L301.0,550.3L298.8,550.1L296.6,569.0L294.4,570.5L291.1,556.3L287.8,557.0L287.5,552.6L285.6,552.6L282.3,562.6L280.1,545.6L275.7,546.9L273.5,556.6L271.3,546.9L269.1,551.0L264.7,542.4L262.5,557.1L260.3,539.3L258.1,560.2L255.9,533.9L251.5,546.1L247.1,560.8L246.8,537.5L244.9,537.5L242.7,542.3L240.5,534.2L240.2,530.4L237.2,530.4L236.9,536.6L235.0,536.6L234.7,540.7L231.7,540.7L229.5,552.4L227.3,529.9L225.1,523.4L222.9,538.0L220.7,524.1L218.5,525.1L216.3,543.9L216.0,529.6L214.1,529.6L213.8,529.8L210.8,529.8L207.5,530.4L205.3,519.1L203.1,523.4L200.9,521.2L198.7,516.0L196.5,515.0L194.3,512.7L194.0,514.2L191.0,514.2L188.8,512.5L188.5,520.9L186.6,520.9L184.4,525.2L182.2,514.3L177.8,509.3L175.6,524.7L173.4,516.7L171.2,513.6L169.0,518.2L165.7,521.0L163.5,505.3L161.3,517.7L161.0,503.5L156.9,503.5L154.7,509.6L152.5,499.3L150.3,514.9L148.1,514.2L145.9,522.0L145.6,496.9L143.7,496.9L141.5,514.2L139.3,496.7L134.9,497.1L131.6,499.8L129.4,504.9L127.2,495.4L125.0,496.6L124.7,493.3L121.7,493.3L119.5,492.1L117.3,501.1L117.0,493.5L115.1,493.5L110.7,480.6L108.5,471.3L106.3,463.4L104.1,462.1L100.8,450.7L98.6,438.4L96.4,435.6L94.2,416.2L90.9,392.7L88.7,375.3L86.5,356.4L86.1,349.1L85.6,342.0L85.2,333.8L84.8,326.3L84.3,318.7L83.9,311.1L83.4,303.4L83.0,293.3L82.6,282.0L82.1,270.8L81.7,258.1L81.2,218.1L80.8,178.2L80.4,151.4L79.9,135.7L79.5,119.9L79.0,104.2L78.6,88.5Z"/>
<path fill="#c0392b" d="M78.6,-50.0L79.0,-50.0L79.5,-50.0L79.9,-50.0L80.4,-50.0L80.8,-50.0L81.2,-50.0L81.7,-50.0L82.1,-50.0L82.6,-50.0L83.0,-50.0L83.4,-50.0L83.9,-50.0L84.3,-50.0L84.8,-50.0L85.2,-50.0L85.6,-50.0L86.1,-50.0L86.5,-50.0L90.9,28.5L93.1,104.3L95.3,155.7L98.6,174.0L100.8,186.7L104.1,212.1L107.4,220.2L110.7,235.9L114.0,242.0L116.2,228.7L118.4,239.5L120.6,230.2L122.8,239.3L127.2,235.5L129.4,250.3L132.4,250.3L132.7,250.0L134.9,246.2L138.2,254.7L142.6,257.8L144.8,254.3L147.0,248.3L149.2,253.6L152.5,261.0L155.8,268.7L159.1,252.2L161.3,263.5L164.6,273.7L169.0,275.5L171.2,278.6L173.4,276.6L176.4,276.6L176.7,280.4L180.0,283.8L182.2,274.8L185.5,284.3L188.8,278.2L193.2,279.5L195.4,289.9L198.7,289.3L200.9,279.4L203.1,291.9L206.4,280.8L208.6,294.8L211.9,295.2L215.2,299.4L218.5,294.7L222.9,287.7L226.2,301.0L229.5,285.4L233.9,294.9L236.1,303.5L238.0,303.5L238.3,300.7L240.5,295.3L243.8,300.3L246.0,303.3L250.4,308.4L252.6,306.8L254.8,304.9L257.8,304.9L258.1,308.0L260.3,316.1L263.6,314.5L265.8,295.4L268.0,316.9L271.3,318.0L274.6,317.2L276.8,317.9L280.1,322.4L283.4,310.1L285.6,322.7L287.5,322.7L287.8,323.5L291.1,326.7L294.4,316.7L297.7,317.9L302.1,329.4L305.4,333.7L307.6,322.0L310.6,322.0L310.9,338.4L313.1,342.1L315.3,343.2L317.5,344.1L319.7,333.5L321.9,345.1L324.1,347.7L328.5,348.4L332.9,328.6L336.2,351.9L338.1,351.9L338.4,354.7L340.6,355.9L342.8,361.1L346.1,360.5L349.4,360.6L351.3,360.6L351.6,364.3L353.5,364.3L353.8,363.1L356.0,357.8L358.2,368.3L360.1,368.3L360.4,373.9L362.6,366.9L364.8,370.1L368.1,371.6L371.4,374.1L373.6,368.6L375.8,363.6L379.1,376.0L381.0,376.0L381.3,379.4L384.3,379.4L384.6,382.6L386.8,379.7L389.0,380.1L392.3,388.5L394.5,390.0L396.4,390.0L396.7,392.7L398.9,390.7L403.3,395.7L405.5,398.1L407.7,388.9L411.0,384.6L414.3,381.2L416.2,381.2L416.5,407.4L418.4,407.4L418.7,406.0L422.0,408.7L423.9,408.7L424.2,403.2L426.4,413.2L428.6,410.5L430.8,418.2L434.1,420.1L437.4,419.2L439.3,419.2L439.6,425.5L441.8,418.1L444.0,430.6L446.2,428.4L449.5,431.8L451.7,433.0L453.9,433.4L456.1,435.2L458.3,430.4L460.5,436.0L462.7,439.7L464.9,443.0L466.8,443.0L467.1,445.1L470.4,448.2L472.6,454.3L474.8,453.0L477.0,445.5L479.2,454.4L481.4,449.6L483.6,458.4L485.8,448.0L489.1,464.2L491.3,460.9L493.5,466.6L497.9,470.7L499.8,470.7L500.1,457.8L502.3,458.9L504.5,477.7L506.7,477.7L509.7,477.7L510.0,487.1L512.2,486.3L514.4,486.5L516.6,476.1L521.0,492.7L523.2,476.3L525.4,499.0L527.6,498.4L529.8,491.8L533.1,490.6L535.3,507.8L537.5,509.9L539.7,511.2L543.0,516.8L546.3,520.3L548.5,520.5L550.7,517.7L552.9,516.8L555.1,526.7L557.0,526.7L557.3,527.1L559.2,527.1L559.5,529.5L563.9,532.6L566.1,531.1L569.4,532.2L571.6,533.9L574.9,533.5L577.1,536.5L580.4,547.6L582.6,542.1L585.9,548.3L588.1,545.2L590.3,546.8L592.5,559.1L596.9,567.5L599.1,571.4L601.3,574.8L603.5,566.5L605.7,567.4L607.9,581.2L610.1,576.6L612.3,587.1L614.2,587.1L614.5,591.6L616.7,590.6L618.9,567.2L621.9,567.2L622.2,594.0L624.4,597.5L626.6,601.8L628.5,601.8L628.8,589.9L631.0,606.1L633.2,607.9L635.4,607.2L637.6,612.5L639.8,590.1L643.1,604.1L645.3,616.4L648.6,619.4L653.0,620.2L655.2,625.7L657.1,625.7L657.4,615.8L659.6,627.9L661.8,620.7L664.0,624.2L667.3,634.2L669.5,623.5L671.7,632.8L673.9,635.4L676.1,635.3L679.4,645.0L681.6,637.6L683.8,639.8L686.0,632.8L688.2,646.4L690.4,639.2L692.6,652.9L694.8,657.1L697.0,662.1L699.2,656.0L703.6,667.4L705.8,666.8L708.0,662.6L711.3,669.6L713.5,669.8L715.7,676.6L719.0,656.0L721.2,679.3L723.4,682.1L725.6,673.4L727.8,671.1L730.0,690.8L732.2,683.8L734.4,669.6L738.8,693.8L740.7,693.8L741.0,697.9L744.3,702.8L746.5,687.6L748.7,700.3L750.9,710.3L754.2,689.5L756.4,716.9L758.6,716.4L760.8,720.3L763.0,714.8L765.2,728.6L767.4,729.7L769.6,730.8L771.8,730.3L774.0,733.7L777.3,739.2L779.5,742.2L781.7,740.1L783.9,744.1L786.1,739.3L789.4,744.2L791.6,745.0L793.8,743.6L796.0,749.1L798.2,752.6L801.5,751.2L803.7,753.0L805.9,754.2L808.1,755.4L810.3,756.0L812.5,754.6L814.7,757.5L816.9,757.2L818.8,757.2L819.1,758.2L821.3,756.1L823.5,758.5L825.4,758.5L825.7,758.8L827.9,759.4L830.1,760.6L832.3,758.7L834.5,759.5L836.7,759.2L838.9,759.2L840.8,759.2L841.1,760.3L843.3,759.3L845.5,761.6L847.7,761.8L849.9,762.0L852.1,760.6L854.3,762.0L857.6,762.3L859.8,761.8L862.0,762.3L865.3,762.8L867.5,762.3L869.7,762.8L870.5,761.2L870.5,769.0L868.6,769.0L866.4,769.0L864.2,769.0L862.0,769.0L859.8,769.0L856.5,769.0L854.3,769.0L852.1,769.0L849.9,769.0L847.7,769.0L845.5,769.0L842.2,769.0L840.0,769.0L835.6,769.0L833.4,769.0L830.1,769.0L827.9,769.0L824.6,769.0L822.4,769.0L819.1,769.0L816.9,769.0L814.7,769.0L812.5,769.0L810.3,769.0L808.1,769.0L805.9,769.0L803.7,769.0L799.3,769.0L796.0,769.0L793.8,769.0L789.4,769.0L787.2,769.0L786.9,769.0L785.0,769.0L780.6,769.0L778.4,769.5L775.1,769.5L772.9,766.4L770.7,761.7L768.5,769.5L766.3,769.5L764.1,769.5L761.9,769.5L759.7,760.4L756.4,769.5L754.2,760.4L750.9,755.2L750.6,769.0L747.6,769.0L743.2,750.4L741.0,749.5L740.7,752.8L738.8,752.8L736.6,742.0L733.3,742.9L731.1,746.5L728.9,768.7L725.6,732.1L725.3,740.4L723.4,740.4L721.2,724.2L716.8,725.5L714.6,721.5L712.4,737.0L712.1,718.2L710.2,718.2L708.0,713.5L704.7,715.6L702.5,713.4L700.3,707.9L697.0,721.2L696.7,724.6L694.8,724.6L692.6,702.0L690.4,723.4L690.1,705.1L688.2,705.1L686.0,695.9L682.7,698.8L680.5,685.8L677.2,690.8L675.0,683.4L672.8,685.8L670.6,696.0L668.4,695.9L666.2,697.2L664.0,688.8L661.8,677.4L659.6,671.5L657.4,685.7L657.1,677.8L655.2,677.8L653.0,657.3L649.7,651.7L647.5,652.0L645.3,647.7L643.1,665.1L639.8,648.1L637.6,640.0L635.4,645.6L632.1,638.1L628.8,647.1L626.6,641.6L624.4,625.4L621.1,629.1L617.8,630.1L615.6,628.9L611.2,618.9L607.9,619.2L605.7,615.1L602.4,617.7L600.2,601.1L598.0,621.8L597.7,597.1L594.7,597.1L590.3,601.2L588.1,590.9L585.9,613.7L581.5,586.7L579.3,590.5L579.0,581.6L577.1,581.6L574.9,586.4L572.7,610.3L570.5,576.9L570.2,574.0L568.3,574.0L566.1,590.1L565.8,585.2L563.9,585.2L563.6,571.6L561.7,571.6L558.4,577.5L558.1,567.2L555.1,567.2L552.9,560.1L552.6,561.2L550.7,561.2L548.5,560.1L546.3,558.9L544.1,551.6L541.9,553.7L539.7,564.8L539.4,546.8L537.5,546.8L535.3,556.8L533.1,572.0L529.8,536.5L527.6,541.3L525.4,542.7L525.1,540.6L523.2,540.6L518.8,538.0L516.6,536.2L514.4,543.6L514.1,540.1L512.2,540.1L510.0,530.2L509.7,528.8L507.8,528.8L505.6,522.7L503.4,523.6L501.2,515.6L497.9,506.0L495.7,532.0L495.4,520.1L493.5,520.1L490.2,522.6L486.9,505.5L484.7,514.9L482.5,501.7L480.3,515.3L480.0,499.4L478.1,499.4L477.8,505.0L475.9,505.0L473.7,512.5L471.5,502.8L471.2,515.7L469.3,515.7L469.0,492.8L466.0,492.8L463.8,500.0L460.5,486.5L458.3,480.3L456.1,478.3L453.9,474.2L451.7,475.6L449.5,486.0L446.2,470.5L442.9,466.9L440.7,476.9L440.4,466.4L437.4,466.4L435.2,479.6L433.0,458.1L432.7,476.8L430.8,476.8L430.5,473.0L427.5,473.0L425.3,467.7L425.0,458.4L423.1,458.4L419.8,454.5L419.5,451.0L417.6,451.0L415.4,452.0L415.1,445.6L413.2,445.6L411.0,455.6L407.7,452.0L405.5,445.0L403.3,452.7L401.1,435.4L398.9,439.5L396.7,445.8L394.5,448.8L392.3,455.8L390.1,441.8L389.8,435.0L387.9,435.0L385.7,440.6L383.5,443.2L381.3,461.5L379.1,426.0L376.9,423.5L374.7,421.5L370.3,413.7L368.1,414.1L364.8,413.6L360.4,411.7L358.2,410.4L354.9,423.2L352.7,420.8L350.5,417.1L348.3,402.2L346.1,407.2L343.9,400.8L341.7,421.1L339.5,403.2L337.3,409.4L332.9,409.0L332.6,400.2L330.7,400.2L328.5,400.5L325.2,401.1L321.9,397.3L319.7,421.8L317.5,393.7L313.1,387.4L308.7,415.0L306.5,392.7L304.3,376.6L301.0,379.2L296.6,398.6L293.3,383.1L290.0,378.6L287.8,371.9L284.5,370.4L280.1,369.2L277.9,368.6L277.6,372.1L274.6,372.1L271.3,359.1L269.1,360.4L266.9,365.9L262.5,374.3L259.2,362.2L255.9,363.9L251.5,360.5L247.1,358.5L244.9,373.6L244.6,366.0L242.7,366.0L239.4,366.7L236.1,359.9L235.8,354.3L232.8,354.3L232.5,348.3L230.6,348.3L230.3,365.0L228.4,365.0L225.1,348.0L224.8,340.7L220.7,340.7L218.5,340.2L216.3,345.0L213.0,344.8L209.7,335.8L207.5,334.5L205.3,342.1L205.0,323.9L202.0,323.9L199.8,332.0L196.5,338.8L194.3,327.5L192.1,328.0L189.9,328.6L187.7,340.1L184.4,353.2L182.2,320.3L180.0,321.9L176.7,321.5L172.3,326.1L169.0,317.6L164.6,317.6L162.4,313.6L159.1,310.2L154.7,310.2L152.5,309.6L149.2,311.0L147.0,307.4L143.7,319.0L141.5,304.2L141.2,310.2L139.3,310.2L137.1,297.2L134.9,297.4L130.5,292.0L128.3,303.2L125.0,285.0L124.7,284.8L122.8,284.8L122.5,289.9L118.4,289.9L116.2,276.1L111.8,276.0L109.6,271.6L109.3,257.5L107.4,257.5L104.1,247.1L100.8,224.7L98.6,239.0L94.2,219.2L90.9,161.1L86.5,102.1L86.1,96.4L85.6,90.0L85.2,83.8L84.8,77.7L84.3,71.5L83.9,55.7L83.4,14.6L83.0,-26.5L82.6,-50.0L82.1,-50.0L81.7,-50.0L81.2,-50.0L80.8,-50.0L80.4,-50.0L79.9,-50.0L79.5,-50.0L79.0,-50.0L78.6,-50.0Z"/>
<path fill="#2980b9" d="M78.6,-50.0L79.0,-50.0L79.5,-50.0L79.9,-50.0L80.4,-50.0L80.8,-50.0L81.2,-50.0L81.7,-50.0L82.1,-50.0L82.6,-50.0L83.0,-50.0L83.4,-50.0L83.9,-50.0L84.3,-50.0L84.8,-50.0L85.2,-50.0L85.6,-50.0L86.1,-50.0L86.5,-50.0L89.8,-43.4L93.1,74.0L95.3,121.6L98.6,132.6L100.8,149.2L105.2,191.2L107.4,198.9L109.6,201.3L112.9,219.4L115.1,191.5L118.4,227.1L121.7,211.1L123.9,228.3L128.3,223.9L132.7,241.9L134.9,231.0L136.8,231.0L137.1,240.9L140.4,246.1L142.6,249.0L144.8,246.0L147.0,253.2L150.3,247.2L152.5,248.8L156.9,249.5L159.9,249.5L160.2,260.9L162.4,261.1L165.7,251.3L170.1,268.1L172.3,271.8L175.6,271.8L177.8,256.7L180.0,276.0L182.2,277.3L184.4,274.2L186.6,263.2L188.5,263.2L188.8,277.8L190.7,277.8L191.0,274.4L194.3,280.8L196.5,283.2L198.7,278.0L203.1,284.5L205.3,284.1L208.6,285.8L210.5,285.8L210.8,288.9L215.2,290.8L218.5,270.7L220.7,290.9L224.0,274.2L227.3,286.8L229.5,297.0L231.4,297.0L231.7,283.7L233.9,297.2L237.2,283.8L239.4,283.9L241.6,287.5L244.6,287.5L244.9,301.5L249.3,295.1L253.7,304.8L255.9,303.3L259.2,283.4L261.4,294.0L263.6,310.6L265.8,288.7L269.1,298.9L272.4,302.0L276.8,300.0L279.0,291.1L281.2,312.8L283.4,314.1L285.6,318.2L288.9,319.8L291.1,290.0L293.3,318.7L295.5,322.6L298.8,319.1L301.0,323.5L304.3,328.8L306.5,328.3L308.7,312.1L313.1,338.8L316.4,337.1L318.6,341.6L320.8,323.7L324.1,337.6L328.5,346.1L330.7,341.1L332.9,347.0L335.1,347.3L339.5,330.8L341.7,347.2L343.9,339.8L346.1,352.9L349.4,343.2L351.6,355.4L353.8,350.6L356.0,341.8L359.3,358.1L361.5,347.9L363.7,362.4L367.0,362.4L369.2,354.9L373.6,369.3L376.9,369.5L379.1,372.7L381.0,372.7L381.3,369.4L383.5,359.2L386.5,359.2L386.8,370.6L389.0,370.8L391.2,376.3L393.4,380.0L397.8,383.6L400.0,365.6L402.2,393.7L404.4,377.4L406.6,379.1L408.8,382.5L411.0,391.6L413.2,384.9L415.4,397.1L417.6,372.2L419.8,397.1L422.0,407.7L423.9,407.7L424.2,411.0L427.5,405.5L429.7,410.1L434.1,398.5L438.5,418.3L442.9,405.7L446.2,423.5L448.4,406.7L450.6,405.2L455.0,421.6L457.2,427.4L459.4,421.6L461.6,416.9L464.9,425.1L468.2,435.0L470.4,441.9L472.6,443.3L474.8,446.3L477.0,445.9L479.2,441.0L483.3,441.0L483.6,451.6L485.8,436.9L488.0,453.7L490.2,448.5L492.4,427.0L494.6,463.2L496.5,463.2L496.8,451.0L499.8,451.0L500.1,436.6L502.3,452.9L504.2,452.9L504.5,451.3L507.8,471.2L510.0,472.3L512.2,473.8L516.6,482.8L518.5,482.8L518.8,485.7L521.0,485.1L523.2,485.7L525.4,489.1L528.7,497.2L530.9,494.0L533.1,490.1L535.3,496.6L537.5,504.0L539.7,507.1L541.9,501.7L544.1,493.6L548.5,510.9L550.7,502.2L552.9,519.1L555.1,517.9L557.3,518.6L560.6,507.1L562.8,524.9L565.0,513.9L568.3,532.1L570.5,525.0L572.7,535.5L574.9,533.9L576.8,533.9L577.1,537.4L580.4,529.5L583.7,543.9L585.9,548.5L588.1,549.2L590.0,549.2L590.3,546.9L592.5,553.8L595.8,548.4L599.1,564.1L603.5,569.1L605.7,571.0L607.9,576.3L611.2,573.6L613.4,576.7L615.6,570.1L618.9,581.5L621.1,588.8L623.0,588.8L623.3,591.9L625.5,594.7L628.8,598.8L631.0,598.3L634.3,600.7L637.6,595.6L639.5,595.6L639.8,606.3L643.1,606.8L645.0,606.8L645.3,614.2L649.7,617.4L654.1,606.7L656.3,608.6L658.5,619.0L661.5,619.0L661.8,609.1L664.0,612.5L666.2,624.1L668.4,602.2L670.6,624.1L672.8,614.0L675.0,616.0L677.2,635.4L680.5,615.4L682.7,636.8L684.9,642.2L688.2,632.3L690.4,632.3L694.8,640.9L698.1,652.8L700.0,652.8L700.3,653.4L702.5,649.4L704.7,662.8L706.9,662.2L709.1,661.9L711.3,639.7L713.5,668.1L717.9,668.6L720.1,675.3L722.3,676.5L724.5,663.2L726.7,670.4L730.0,661.1L732.2,684.0L734.4,670.5L737.7,672.5L739.6,672.5L739.9,689.7L742.1,693.5L744.3,678.4L746.5,697.1L748.4,697.1L748.7,703.0L752.0,708.3L754.2,705.5L757.5,706.8L760.8,703.6L763.0,696.8L765.2,721.0L767.4,690.1L769.6,701.7L771.5,701.7L771.8,715.1L774.0,731.7L776.2,724.1L778.4,731.9L780.6,730.5L783.9,740.7L786.1,737.3L788.3,739.1L790.2,739.1L790.5,747.4L792.7,749.2L794.9,753.6L797.1,749.6L799.3,743.5L801.5,740.2L804.5,740.2L804.8,739.1L807.0,748.9L809.2,754.4L813.6,755.2L815.8,756.3L818.0,757.9L821.0,757.9L821.3,756.7L824.6,757.9L826.8,759.8L829.0,759.4L831.2,755.8L833.4,760.4L835.3,760.4L835.6,761.8L838.9,756.6L841.1,759.1L843.3,761.8L845.5,761.7L848.5,761.7L848.8,761.7L852.1,761.6L855.1,761.6L855.4,761.6L859.8,760.2L862.0,761.4L865.3,762.7L869.7,762.9L870.5,761.9L870.5,769.0L869.7,769.0L867.5,769.0L865.3,769.0L863.1,769.0L859.8,769.0L856.5,769.0L853.2,769.0L851.0,769.0L848.8,769.0L848.5,769.0L846.6,769.0L844.4,769.0L842.2,769.0L840.0,769.0L837.8,769.0L835.6,769.0L832.3,769.0L829.0,769.0L826.8,769.0L824.6,769.0L822.4,769.0L822.1,769.0L820.2,769.0L818.0,769.0L815.8,769.0L811.4,769.0L811.1,769.0L809.2,769.0L807.0,769.0L804.8,769.0L804.5,769.0L802.6,769.0L799.3,769.0L796.0,769.0L793.8,769.0L791.6,769.0L787.2,769.5L785.0,769.5L780.6,769.4L778.4,769.5L776.2,769.5L774.0,767.7L771.8,769.5L768.5,769.5L766.3,762.0L764.1,769.5L760.8,764.7L758.6,769.5L756.4,767.0L753.1,761.5L752.8,758.3L750.9,758.3L748.7,755.0L748.4,750.4L746.5,750.4L743.2,748.6L741.0,747.2L737.7,748.8L735.5,758.1L733.3,738.2L730.0,727.8L727.8,740.2L725.6,741.5L722.3,724.0L720.1,720.6L717.9,732.6L717.6,725.0L715.7,725.0L713.5,712.1L711.3,705.2L708.0,704.1L705.8,714.9L701.4,714.3L699.2,713.6L697.0,692.3L696.7,689.5L694.8,689.5L692.6,694.0L690.4,697.2L688.2,692.6L684.9,677.1L684.6,691.9L682.7,691.9L680.5,691.7L677.2,669.7L675.0,665.6L674.7,660.5L671.7,660.5L669.5,662.9L667.3,672.1L667.0,670.0L665.1,670.0L662.9,653.4L660.7,647.5L657.4,652.6L655.2,648.1L653.0,641.3L650.8,641.2L648.6,656.1L646.4,644.7L644.2,630.5L643.9,657.2L640.9,657.2L638.7,626.1L636.5,632.1L634.3,641.9L634.0,635.8L632.1,635.8L629.9,618.6L627.7,621.9L624.4,612.6L624.1,609.3L620.0,609.3L617.8,604.3L615.6,619.8L612.3,612.7L610.1,630.8L607.9,598.4L603.5,594.1L600.2,601.7L599.9,590.9L598.0,590.9L595.8,582.1L593.6,591.9L591.4,594.8L591.1,596.6L587.0,596.6L584.8,571.1L582.6,589.4L580.4,601.9L577.1,582.7L574.9,563.3L572.7,571.7L570.5,565.0L568.3,563.3L566.1,558.5L563.9,556.0L561.7,564.4L558.4,558.2L555.1,554.0L550.7,580.9L548.5,552.6L546.3,543.7L543.0,541.2L540.8,542.9L538.6,542.7L536.4,552.6L534.2,539.2L532.0,544.5L528.7,531.0L528.4,547.1L526.5,547.1L522.1,534.4L518.8,521.7L516.6,527.8L514.4,506.9L512.2,497.5L510.0,508.0L506.7,503.7L503.4,503.5L501.2,510.1L499.0,502.0L496.8,508.7L494.6,495.7L492.4,497.7L490.2,488.7L488.0,485.8L487.7,482.3L485.8,482.3L483.6,497.4L481.4,479.3L478.1,505.3L473.7,498.7L471.5,476.3L469.3,464.6L469.0,467.8L466.0,467.8L461.6,472.9L458.3,456.7L455.0,468.4L450.6,448.3L448.4,454.3L446.2,452.7L444.0,468.5L443.7,454.9L441.8,454.9L439.6,457.5L435.2,438.1L433.0,438.5L430.8,444.1L428.6,442.3L426.4,463.3L422.0,431.1L418.7,430.1L416.5,427.8L416.2,425.2L413.2,425.2L411.0,422.2L408.8,423.1L406.6,441.7L404.4,419.3L402.2,426.5L400.0,425.0L396.7,409.2L393.4,435.0L391.2,414.2L389.0,416.4L386.8,405.8L384.6,408.2L382.4,400.1L380.2,414.8L378.0,410.1L374.7,399.3L374.4,387.7L372.5,387.7L370.3,393.3L368.1,391.0L364.8,391.3L362.6,393.5L362.3,384.6L360.4,384.6L358.2,417.4L356.0,386.0L352.7,390.7L349.4,377.6L347.2,376.1L345.0,407.8L342.8,372.6L340.6,372.0L338.4,372.7L336.2,377.0L332.9,388.9L330.7,370.2L328.5,376.1L325.2,363.8L321.9,366.6L319.7,363.8L317.5,386.5L315.3,363.3L313.1,371.8L309.8,363.9L305.4,355.9L302.1,358.1L299.9,384.1L297.7,351.2L295.5,357.4L291.1,350.0L290.8,345.9L286.7,345.9L284.5,343.1L280.1,342.9L275.7,343.0L272.4,337.5L272.1,342.5L270.2,342.5L268.0,346.8L265.8,340.1L263.6,337.6L259.2,336.2L257.0,345.9L254.8,335.1L254.5,334.7L252.6,334.7L250.4,338.7L250.1,350.0L248.2,350.0L243.8,326.3L243.5,326.0L240.5,326.0L238.3,328.9L238.0,332.0L233.9,332.0L231.7,334.4L231.4,327.1L229.5,327.1L227.3,345.9L225.1,337.2L220.7,319.3L218.5,327.9L218.2,330.4L215.2,330.4L211.9,315.2L209.7,312.9L206.4,309.6L203.1,312.8L200.9,302.9L196.5,307.9L196.2,317.6L194.3,317.6L192.1,319.6L188.8,308.7L186.6,331.9L184.4,310.2L180.0,309.1L175.6,312.9L172.3,309.0L169.0,309.7L165.7,298.6L163.5,295.7L161.3,317.4L158.0,289.3L155.8,297.1L153.6,297.6L149.2,296.1L148.9,285.2L145.9,285.2L145.6,286.7L142.6,286.7L140.4,286.7L140.1,277.2L138.2,277.2L133.8,287.1L130.5,284.3L126.1,274.6L121.7,263.4L119.5,273.5L116.2,256.6L114.0,252.1L111.8,264.0L109.6,240.7L106.3,235.1L103.0,223.4L100.8,227.0L97.5,202.7L94.2,200.3L92.0,166.6L89.8,140.2L86.5,98.4L86.1,90.1L85.6,84.7L85.2,78.3L84.8,72.0L84.3,60.0L83.9,22.0L83.4,-16.1L83.0,-50.0L82.6,-50.0L82.1,-50.0L81.7,-50.0L81.2,-50.0L80.8,-50.0L80.4,-50.0L79.9,-50.0L79.5,-50.0L79.0,-50.0L78.6,-50.0Z"/>
</g>
<g stroke="#000000" stroke-width="4.4" fill="none" stroke-linecap="butt">
<line x1="78.6" y1="67.2" x2="78.6" y2="771.7"/>
<line x1="76.39999999999999" y1="769.5" x2="872.7" y2="769.5"/>
<line x1="78.6" y1="769.5" x2="78.6" y2="789.3"/>
<line x1="122.6" y1="769.5" x2="122.6" y2="781.6"/>
<line x1="166.6" y1="769.5" x2="166.6" y2="781.6"/>
<line x1="210.6" y1="769.5" x2="210.6" y2="781.6"/>
<line x1="254.6" y1="769.5" x2="254.6" y2="781.6"/>
<line x1="298.6" y1="769.5" x2="298.6" y2="789.3"/>
<line x1="342.6" y1="769.5" x2="342.6" y2="781.6"/>
<line x1="386.6" y1="769.5" x2="386.6" y2="781.6"/>
<line x1="430.6" y1="769.5" x2="430.6" y2="781.6"/>
<line x1="474.5" y1="769.5" x2="474.5" y2="781.6"/>
<line x1="518.5" y1="769.5" x2="518.5" y2="789.3"/>
<line x1="562.5" y1="769.5" x2="562.5" y2="781.6"/>
<line x1="606.5" y1="769.5" x2="606.5" y2="781.6"/>
<line x1="650.5" y1="769.5" x2="650.5" y2="781.6"/>
<line x1="694.5" y1="769.5" x2="694.5" y2="781.6"/>
<line x1="738.5" y1="769.5" x2="738.5" y2="789.3"/>
<line x1="782.5" y1="769.5" x2="782.5" y2="781.6"/>
<line x1="826.5" y1="769.5" x2="826.5" y2="781.6"/>
<line x1="870.5" y1="769.5" x2="870.5" y2="781.6"/>
<line x1="58.8" y1="769.5" x2="78.6" y2="769.5"/>
<line x1="66.5" y1="750.8" x2="78.6" y2="750.8"/>
<line x1="66.5" y1="732.0" x2="78.6" y2="732.0"/>
<line x1="66.5" y1="713.3" x2="78.6" y2="713.3"/>
<line x1="66.5" y1="694.6" x2="78.6" y2="694.6"/>
<line x1="58.8" y1="675.9" x2="78.6" y2="675.9"/>
<line x1="66.5" y1="657.1" x2="78.6" y2="657.1"/>
<line x1="66.5" y1="638.4" x2="78.6" y2="638.4"/>
<line x1="66.5" y1="619.7" x2="78.6" y2="619.7"/>
<line x1="66.5" y1="600.9" x2="78.6" y2="600.9"/>
<line x1="58.8" y1="582.2" x2="78.6" y2="582.2"/>
<line x1="66.5" y1="563.5" x2="78.6" y2="563.5"/>
<line x1="66.5" y1="544.8" x2="78.6" y2="544.8"/>
<line x1="66.5" y1="526.0" x2="78.6" y2="526.0"/>
<line x1="66.5" y1="507.3" x2="78.6" y2="507.3"/>
<line x1="58.8" y1="488.6" x2="78.6" y2="488.6"/>
<line x1="66.5" y1="469.9" x2="78.6" y2="469.9"/>
<line x1="66.5" y1="451.1" x2="78.6" y2="451.1"/>
<line x1="66.5" y1="432.4" x2="78.6" y2="432.4"/>
<line x1="66.5" y1="413.7" x2="78.6" y2="413.7"/>
<line x1="58.8" y1="394.9" x2="78.6" y2="394.9"/>
<line x1="66.5" y1="376.2" x2="78.6" y2="376.2"/>
<line x1="66.5" y1="357.5" x2="78.6" y2="357.5"/>
<line x1="66.5" y1="338.8" x2="78.6" y2="338.8"/>
<line x1="66.5" y1="320.0" x2="78.6" y2="320.0"/>
<line x1="58.8" y1="301.3" x2="78.6" y2="301.3"/>
<line x1="66.5" y1="282.6" x2="78.6" y2="282.6"/>
<line x1="66.5" y1="263.8" x2="78.6" y2="263.8"/>
<line x1="66.5" y1="245.1" x2="78.6" y2="245.1"/>
<line x1="66.5" y1="226.4" x2="78.6" y2="226.4"/>
<line x1="58.8" y1="207.7" x2="78.6" y2="207.7"/>
<line x1="66.5" y1="188.9" x2="78.6" y2="188.9"/>
<line x1="66.5" y1="170.2" x2="78.6" y2="170.2"/>
<line x1="66.5" y1="151.5" x2="78.6" y2="151.5"/>
<line x1="66.5" y1="132.7" x2="78.6" y2="132.7"/>
<line x1="58.8" y1="114.0" x2="78.6" y2="114.0"/>
<line x1="66.5" y1="95.3" x2="78.6" y2="95.3"/>
<line x1="66.5" y1="76.6" x2="78.6" y2="76.6"/>
</g>
<g font-size="40">
<text x="79.8" y="831.3" text-anchor="middle">0</text>
<text x="299.8" y="831.3" text-anchor="middle">500</text>
<text x="519.7" y="831.3" text-anchor="middle">1000</text>
<text x="739.7" y="831.3" text-anchor="middle">1500</text>
<text x="49.7" y="781.3" text-anchor="end">0</text>
<text x="49.7" y="687.7" text-anchor="end">2</text>
<text x="49.7" y="594.0" text-anchor="end">4</text>
<text x="49.7" y="500.4" text-anchor="end">6</text>
<text x="49.7" y="406.7" text-anchor="end">8</text>
<text x="49.7" y="313.1" text-anchor="end">10</text>
<text x="49.7" y="219.5" text-anchor="end">12</text>
<text x="49.7" y="125.8" text-anchor="end">14</text>
</g>
<text x="79.4" y="40.9" font-size="40.3" font-weight="bold">Error rate</text>
<text x="476" y="881.5" font-size="40" font-style="italic" text-anchor="middle">epoch</text>
<rect x="633.3" y="76.9" width="226.9" height="437.5" fill="#ffffff" fill-opacity="0.95" stroke="#e5e5e5" stroke-opacity="0.5" stroke-width="3.5"/>
<line x1="653.3" y1="122" x2="713.8" y2="122" stroke="#7f8c8d" stroke-width="6.6"/>
<text x="734" y="136.5" font-size="40">E-E-B</text>
<line x1="653.3" y1="190" x2="713.8" y2="190" stroke="#f39c12" stroke-width="6.6"/>
<text x="734" y="204.5" font-size="40">E-S-B</text>
<line x1="653.3" y1="258" x2="713.8" y2="258" stroke="#8e44ad" stroke-width="6.6"/>
<text x="734" y="272.5" font-size="40">S-K-B</text>
<line x1="653.3" y1="326" x2="713.8" y2="326" stroke="#16a085" stroke-width="6.6"/>
<text x="734" y="340.5" font-size="40">S-E-B</text>
<line x1="653.3" y1="394" x2="713.8" y2="394" stroke="#c0392b" stroke-width="6.6"/>
<text x="734" y="408.5" font-size="40">S-S-B</text>
<line x1="653.3" y1="462" x2="713.8" y2="462" stroke="#2980b9" stroke-width="6.6"/>
<text x="734" y="476.5" font-size="40">S-S-I</text>
</svg>
</body></html>
